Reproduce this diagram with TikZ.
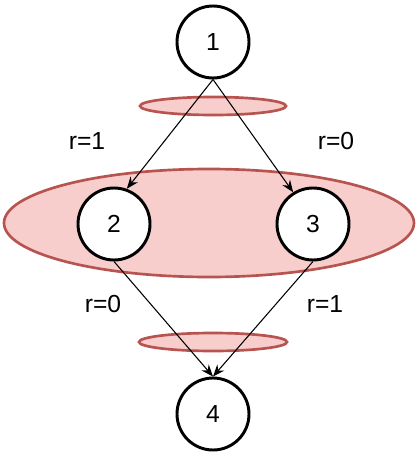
\documentclass[tikz,border=0pt]{standalone}
\usepackage{fontspec}
\setmainfont{Liberation Sans}
\usetikzlibrary{arrows.meta}
\definecolor{rfill}{HTML}{F8CECC}
\definecolor{rline}{HTML}{B85450}
\begin{document}
\begin{tikzpicture}[x=0.75pt,y=-0.75pt,
  state/.style={circle,draw=black,line width=2.2pt,fill=white,minimum size=54pt,inner sep=0pt,font=\fontsize{18.5}{21}\selectfont},
  zone/.style={draw=rline,fill=rfill,line width=2pt},
  lbl/.style={font=\fontsize{18.5}{21}\selectfont,inner sep=0pt},
  edge/.style={-{Stealth[length=9pt,width=7pt,inset=3pt]},line width=0.8pt,draw=black}]
\useasboundingbox (0,0) rectangle (418,457);
\draw[zone] (209,223) ellipse [x radius=205, y radius=54];
\draw[zone] (213,106) ellipse [x radius=73, y radius=9];
\draw[zone] (213,342) ellipse [x radius=74, y radius=9];
\node[state] (n1) at (213,42) {1};
\node[state] (n2) at (114,224) {2};
\node[state] (n3) at (313,224) {3};
\node[state] (n4) at (213,414) {4};
\draw[edge] (n1.south) -- (n2.70);
\draw[edge] (n1.south) -- (n3.122);
\draw[edge] (n2.south) -- (n4.north);
\draw[edge] (n3.south) -- (n4.north);
\node[lbl] (l1) at (87,141) {r=1};
\node[lbl] (l2) at (336,141) {r=0};
\node[lbl] (l3) at (103,304) {r=0};
\node[lbl] (l4) at (325,304) {r=1};
\end{tikzpicture}
\end{document}
